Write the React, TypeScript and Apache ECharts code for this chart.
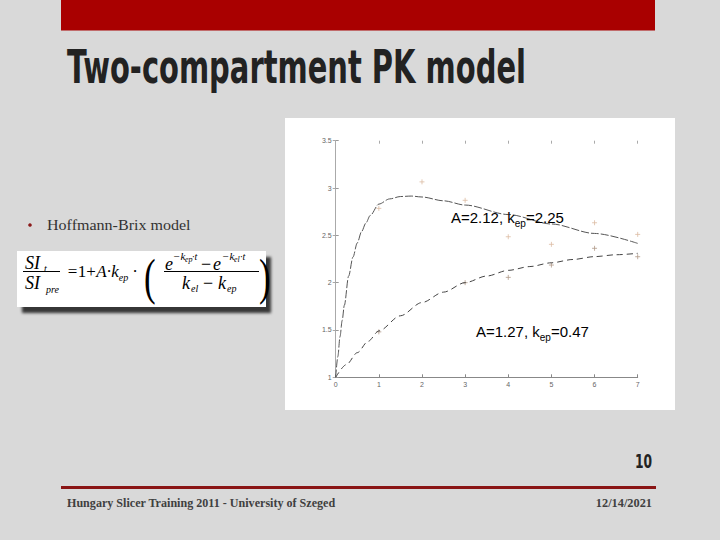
import React, { useEffect, useRef } from "react";
import * as echarts from "echarts";

// ---- data ----
const upperT = [0, 0.05, 0.1, 0.15, 0.2, 0.3, 0.4, 0.5, 0.6, 0.7, 0.8, 1, 1.25, 1.5, 1.75, 2, 2.5, 3, 4, 5, 6, 7];
const upperY = [1, 1.22, 1.43, 1.6, 1.76, 2.07, 2.27, 2.42, 2.54, 2.63, 2.71, 2.83, 2.885, 2.91, 2.915, 2.905, 2.865, 2.82, 2.72, 2.62, 2.52, 2.415];
const lowerT = [0, 0.25, 0.5, 0.75, 1, 1.5, 2, 2.5, 3, 3.5, 4, 4.5, 5, 5.5, 6, 6.5, 7];
const lowerY = [1, 1.135, 1.26, 1.38, 1.49, 1.65, 1.79, 1.9, 2.0, 2.07, 2.13, 2.17, 2.21, 2.245, 2.275, 2.295, 2.31];
const upperPtsT = [1, 2, 3, 4, 5, 6, 7];
const upperPtsY = [2.785, 3.065, 2.87, 2.485, 2.405, 2.633, 2.51];
const lowerPtsT = [1, 3, 4, 5, 6, 7];
const lowerPtsY = [1.48, 2.0, 2.056, 2.186, 2.363, 2.274];
const xTicks = { min: 0, max: 7, interval: 1 };
const yTicks = { min: 1, max: 3.5, interval: 0.5 };

const titleText = "Two-compartment PK model";
const bulletText = "Hoffmann-Brix model";
const footerLeft = "Hungary Slicer Training 2011 - University of Szeged";
const footerRight = "12/14/2021";
const pageNo = "10";
const label1 = ["A=2.12, k", "ep", "=2.25"];
const label2 = ["A=1.27, k", "ep", "=0.47"];

const SERIF = '"Liberation Serif", "Times New Roman", serif';
const NARROW = '"Liberation Sans Narrow", "DejaVu Sans Condensed", "Liberation Sans", sans-serif';
const SANS = '"Liberation Sans", Arial, sans-serif';

const plus = "path://M5,0 L5,10 M0,5 L10,5";

function txt(text: string, x: number, y: number, font: string, extra: any = {}) {
  return {
    type: "text",
    x,
    y,
    scaleX: extra.scaleX ?? 1,
    scaleY: extra.scaleY ?? 1,
    z: 10,
    style: {
      text,
      x: 0,
      y: 0,
      font,
      fill: extra.fill ?? "#000",
      align: extra.align ?? "left",
      verticalAlign: "middle",
    },
  };
}

function richLabel(parts: string[], x: number, y: number) {
  return {
    type: "text",
    x,
    y,
    z: 10,
    style: {
      text: `{a|${parts[0]}}{s|${parts[1]}}{a|${parts[2]}}`,
      x: 0,
      y: 0,
      verticalAlign: "middle",
      rich: {
        a: { fontFamily: SANS, fontSize: 15, fill: "#000", lineHeight: 22, verticalAlign: "middle" },
        s: { fontFamily: SANS, fontSize: 10, fill: "#000", lineHeight: 10, verticalAlign: "bottom" },
      },
    },
  };
}

export default function App() {
  const ref = useRef<HTMLDivElement>(null);
  useEffect(() => {
    const chart = echarts.init(ref.current!, null, { renderer: "svg" });
    const it = "italic 18px " + SERIF;
    const it17 = "italic 17px " + SERIF;
    const rg17 = "17px " + SERIF;
    const rg = "18px " + SERIF;
    const sm = "italic 10px " + SERIF;
    const xs = "italic 8px " + SERIF;
    const C = { align: "center" };
    const graphic: any[] = [
      { type: "rect", z: -20, shape: { x: 61, y: 0, width: 594, height: 30.5 }, style: { fill: "#a90000" } },
      txt(titleText, 67, 67, "bold 46px " + NARROW, { fill: "#222", scaleX: 0.7 }),
      { type: "circle", z: 10, shape: { cx: 30, cy: 225, r: 1.8 }, style: { fill: "#8b1a1a" } },
      txt(bulletText, 47, 225, "15px " + SERIF, { fill: "#333", scaleX: 1.07 }),
      // formula box
      {
        type: "rect",
        z: 1,
        shape: { x: 17, y: 251, width: 249, height: 56 },
        style: { fill: "#fff", shadowBlur: 3, shadowOffsetX: 5, shadowOffsetY: 6, shadowColor: "rgba(0,0,0,0.75)" },
      },
      txt("SI", 25, 262.5, it),
      txt("t", 44, 268, sm),
      { type: "line", z: 10, shape: { x1: 23, y1: 271.5, x2: 60, y2: 271.5 }, style: { stroke: "#000", lineWidth: 1 } },
      txt("SI", 25, 283, it),
      txt("pre", 46, 289, sm),
      txt("=", 72.5, 271, rg17, C),
      txt("1", 82, 271, rg17, C),
      txt("+", 91, 271, rg17, C),
      txt("A", 101.5, 271, it17, C),
      txt("·", 109, 271, rg17, C),
      txt("k", 115, 271, it17, C),
      txt("ep", 123.5, 277, sm, C),
      txt("·", 135, 271, rg17, C),
      txt("(", 144, 277, "50px " + SERIF, { scaleX: 0.7 }),
      txt("e", 165, 264, it),
      txt("−k", 173, 256, "italic 11px " + SERIF),
      txt("ep", 185, 259, xs),
      txt("·t", 192, 256, "italic 10px " + SERIF),
      txt("−", 201, 264, rg),
      txt("e", 213, 264, it),
      txt("−k", 222, 256, "italic 11px " + SERIF),
      txt("el", 234, 259, xs),
      txt("·t", 240, 256, "italic 10px " + SERIF),
      { type: "line", z: 10, shape: { x1: 164, y1: 271.5, x2: 259, y2: 271.5 }, style: { stroke: "#000", lineWidth: 1 } },
      txt("k", 182, 283, it),
      txt("el", 191, 288, sm),
      txt("−", 203, 283, rg),
      txt("k", 218, 283, it),
      txt("ep", 227, 288, sm),
      txt(")", 259, 277, "50px " + SERIF, { scaleX: 0.7 }),
      // chart panel
      { type: "rect", z: -10, shape: { x: 285, y: 118, width: 390, height: 292 }, style: { fill: "#fff" } },
      richLabel(label1, 451, 217),
      richLabel(label2, 476, 331),
      // footer
      txt(pageNo, 652, 462, "bold 19px " + NARROW, { fill: "#222", align: "right", scaleX: 0.72 }),
      { type: "rect", z: 1, shape: { x: 61, y: 486, width: 595, height: 3 }, style: { fill: "#8a1515" } },
      txt(footerLeft, 67, 503, "bold 13px " + SERIF, { fill: "#404040", scaleX: 0.93 }),
      txt(footerRight, 652, 503, "bold 13px " + SERIF, { fill: "#404040", align: "right", scaleX: 0.95 }),
    ];
    const axisLabel = { fontSize: 7, color: "#666", margin: 4, fontFamily: SANS };
    chart.setOption({
      animation: false,
      backgroundColor: "#d9d9d9",
      grid: { left: 335.7, top: 140.7, width: 302, height: 236.6, containLabel: false },
      xAxis: [
        {
          type: "value", ...xTicks, position: "bottom",
          axisLine: { show: true, lineStyle: { color: "#888", width: 1 } },
          axisTick: { show: true, inside: true, length: 3, lineStyle: { color: "#888" } },
          axisLabel, splitLine: { show: false },
        },
        {
          type: "value", ...xTicks, position: "top",
          axisLine: { show: false },
          axisTick: { show: true, inside: true, length: 3, lineStyle: { color: "#aaa" } },
          axisLabel: { show: false }, splitLine: { show: false },
        },
      ],
      yAxis: [
        {
          type: "value", ...yTicks, position: "left",
          axisLine: { show: true, lineStyle: { color: "#aaa", width: 1 } },
          axisTick: { show: true, inside: true, length: 3, lineStyle: { color: "#999" } },
          axisLabel, splitLine: { show: false },
        },
        {
          type: "value", ...yTicks, position: "right",
          axisLine: { show: false },
          axisTick: { show: true, inside: true, length: 3, lineStyle: { color: "#aaa" } },
          axisLabel: { show: false }, splitLine: { show: false },
        },
      ],
      series: [
        {
          type: "line", xAxisIndex: 0, yAxisIndex: 0, symbol: "none", smooth: 0.3, smoothMonotone: "x",
          data: upperT.map((t, i) => [t, upperY[i]]),
          lineStyle: { color: "#555", width: 1, type: [8, 2] },
        },
        {
          type: "line", xAxisIndex: 0, yAxisIndex: 0, symbol: "none", smooth: 0.3, smoothMonotone: "x",
          data: lowerT.map((t, i) => [t, lowerY[i]]),
          lineStyle: { color: "#444", width: 1, type: [6, 4] },
        },
        {
          type: "scatter", xAxisIndex: 0, yAxisIndex: 0, symbol: plus, symbolSize: 5,
          data: upperPtsT.map((t, i) => [t, upperPtsY[i]]),
          itemStyle: { color: "transparent", borderColor: "#dcbca2", borderWidth: 1 },
        },
        {
          type: "scatter", xAxisIndex: 0, yAxisIndex: 0, symbol: plus, symbolSize: 5,
          data: lowerPtsT.map((t, i) => [t, lowerPtsY[i]]),
          itemStyle: { color: "transparent", borderColor: "#b09a88", borderWidth: 1 },
        },
      ],
      graphic,
    });
    return () => chart.dispose();
  }, []);
  return <div ref={ref} style={{ position: "absolute", left: 0, top: 0, width: 720, height: 540 }} />;
}
